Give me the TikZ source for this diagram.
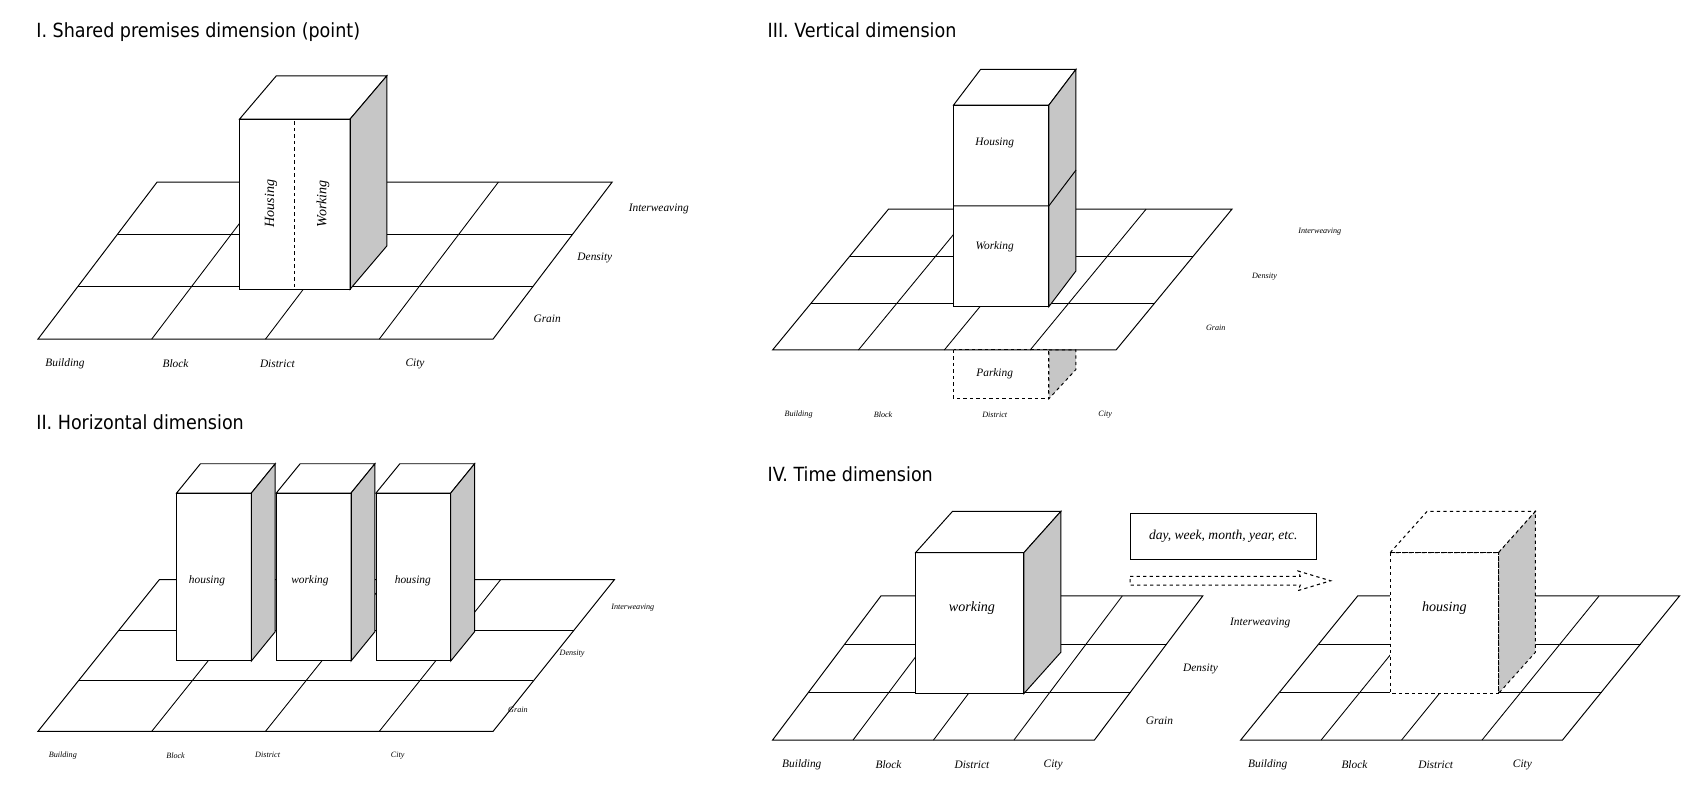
\documentclass[tikz,border=0pt]{standalone}
\usepackage{fontspec}
\setmainfont{Liberation Serif}
\setsansfont{DejaVu Sans Condensed}
\begin{document}
\newcommand\mygrid[5]{% x0 y0 W H S
 \draw[line width=0.9pt] (#1,#2) -- ++(#3,0) -- ++(#5,-#4) -- ++(-#3,0) -- cycle;
 \foreach \i in {1,2,3}{\draw[line width=0.8pt] ({#1+\i*#3/4},#2) -- ++(#5,-#4);}
 \foreach \j in {1,2}{\draw[line width=0.8pt] ({#1+\j*#5/3},{#2-\j*#4/3}) -- ++(#3,0);}
}
\newcommand\mycube[7]{% xl yt xr yb dx dy style
 \fill[white] (#1,#4) rectangle (#3,#2);
 \filldraw[fill=white,line width=0.9pt,#7] (#1,#2) -- ++(#5,-#6) -- ++({#3-#1},0) -- (#3,#2) -- cycle;
 \filldraw[fill=gray!45,line width=0.9pt,#7] (#3,#2) -- ++(#5,-#6) -- ++(0,{#4-#2}) -- (#3,#4) -- cycle;
 \draw[line width=0.9pt,#7] (#1,#2) rectangle (#3,#4);
}
\begin{tikzpicture}[x=1pt,y=-1pt,
 title/.style={anchor=west,font=\sffamily\fontsize{18}{20}\selectfont},
 lab/.style={font=\itshape\fontsize{10.5}{12}\selectfont},
 slab/.style={font=\itshape\fontsize{7.5}{9}\selectfont},
 blab/.style={font=\itshape\fontsize{13}{15}\selectfont}]
\useasboundingbox (0,0) rectangle (1568,730);
% ---------- Panel I
\node[title] (t1) at (30,30) {I. Shared premises dimension (point)};
\mygrid{35}{313}{420}{145}{110}
\mycube{221}{110}{323}{267}{34}{40}{}
\draw[dashed,line width=0.8pt] (272,112) -- (272,267);
\node[blab,rotate=90] (h1) at (250,188) {Housing};
\node[blab,rotate=90] (w1) at (298,188) {Working};
\node[lab] (i1) at (608,193) {Interweaving};
\node[lab] (d1) at (549,238) {Density};
\node[lab] (g1) at (505,294) {Grain};
\node[lab] (b1) at (60,336) {Building};
\node[lab] (k1) at (162,336) {Block};
\node[lab] (s1) at (256,336) {District};
\node[lab] (c1) at (383,336) {City};
% ---------- Panel II
\node[title] (t2) at (30,390) {II. Horizontal dimension};
\mygrid{35}{675}{420}{140}{112}
\mycube{163}{455}{232}{610}{22}{27}{}
\mycube{255}{455}{324}{610}{22}{27}{}
\mycube{347}{455}{416}{610}{22}{27}{}
\node[lab] (h2) at (191,536) {housing};
\node[lab] (w2) at (286,536) {working};
\node[lab] (h3) at (381,536) {housing};
\node[slab] (i2) at (584,561) {Interweaving};
\node[slab] (d2) at (528,603) {Density};
\node[slab] (g2) at (478,655) {Grain};
\node[slab] (b2) at (58,697) {Building};
\node[slab] (k2) at (162,697) {Block};
\node[slab] (s2) at (247,697) {District};
\node[slab] (c2) at (367,697) {City};
% ---------- Panel III
\node[title] (t3) at (705,28) {III. Vertical dimension};
\fill[white] (880,323) rectangle (968,368);
\filldraw[fill=gray!45,line width=0.9pt,dashed] (968,323) -- (993,323) -- (993,341) -- (968,368) -- cycle;
\draw[line width=0.9pt,dashed] (880,323) rectangle (968,368);
\mygrid{713}{323}{317}{130}{107}
\mycube{880}{97}{968}{283}{25}{33}{}
\draw[line width=0.9pt] (880,190) -- (968,190) -- ++(25,-33);
\node[lab] (h4) at (918,132) {Housing};
\node[lab] (w4) at (918,228) {Working};
\node[lab] (p4) at (918,345) {Parking};
\node[slab] (i4) at (1218,214) {Interweaving};
\node[slab] (d4) at (1167,255) {Density};
\node[slab] (g4) at (1122,303) {Grain};
\node[slab] (b4) at (737,383) {Building};
\node[slab] (k4) at (815,383) {Block};
\node[slab] (s4) at (918,383) {District};
\node[slab] (c4) at (1020,383) {City};
% ---------- Panel IV
\node[title] (t5) at (705,438) {IV. Time dimension};
\mygrid{713}{683}{297}{133}{100}
\mycube{845}{510}{945}{640}{34}{38}{}
\node[blab] (w5) at (897,561) {working};
\node[lab] (i5) at (1163,575) {Interweaving};
\node[lab] (d5) at (1108,617) {Density};
\node[lab] (g5) at (1070,665) {Grain};
\node[lab] (b5) at (740,706) {Building};
\node[lab] (k5) at (820,706) {Block};
\node[lab] (s5) at (897,706) {District};
\node[lab] (c5) at (972,706) {City};
\node[draw,line width=1pt,minimum width=172pt,minimum height=42pt,font=\itshape\fontsize{12.5}{14}\selectfont] (tb) at (1129,495) {day, week, month, year, etc.};
\draw[dashed,line width=1pt] (1043,532) -- (1200,532) -- (1198,527) -- (1228,536) -- (1198,545) -- (1200,540) -- (1043,540) -- cycle;
\mygrid{1145}{683}{297}{133}{108}
\mycube{1283}{510}{1383}{640}{34}{38}{dashed}
\node[blab] (h5) at (1333,561) {housing};
\node[lab] (b6) at (1170,706) {Building};
\node[lab] (k6) at (1250,706) {Block};
\node[lab] (s6) at (1325,706) {District};
\node[lab] (c6) at (1405,706) {City};
\end{tikzpicture}
\end{document}
